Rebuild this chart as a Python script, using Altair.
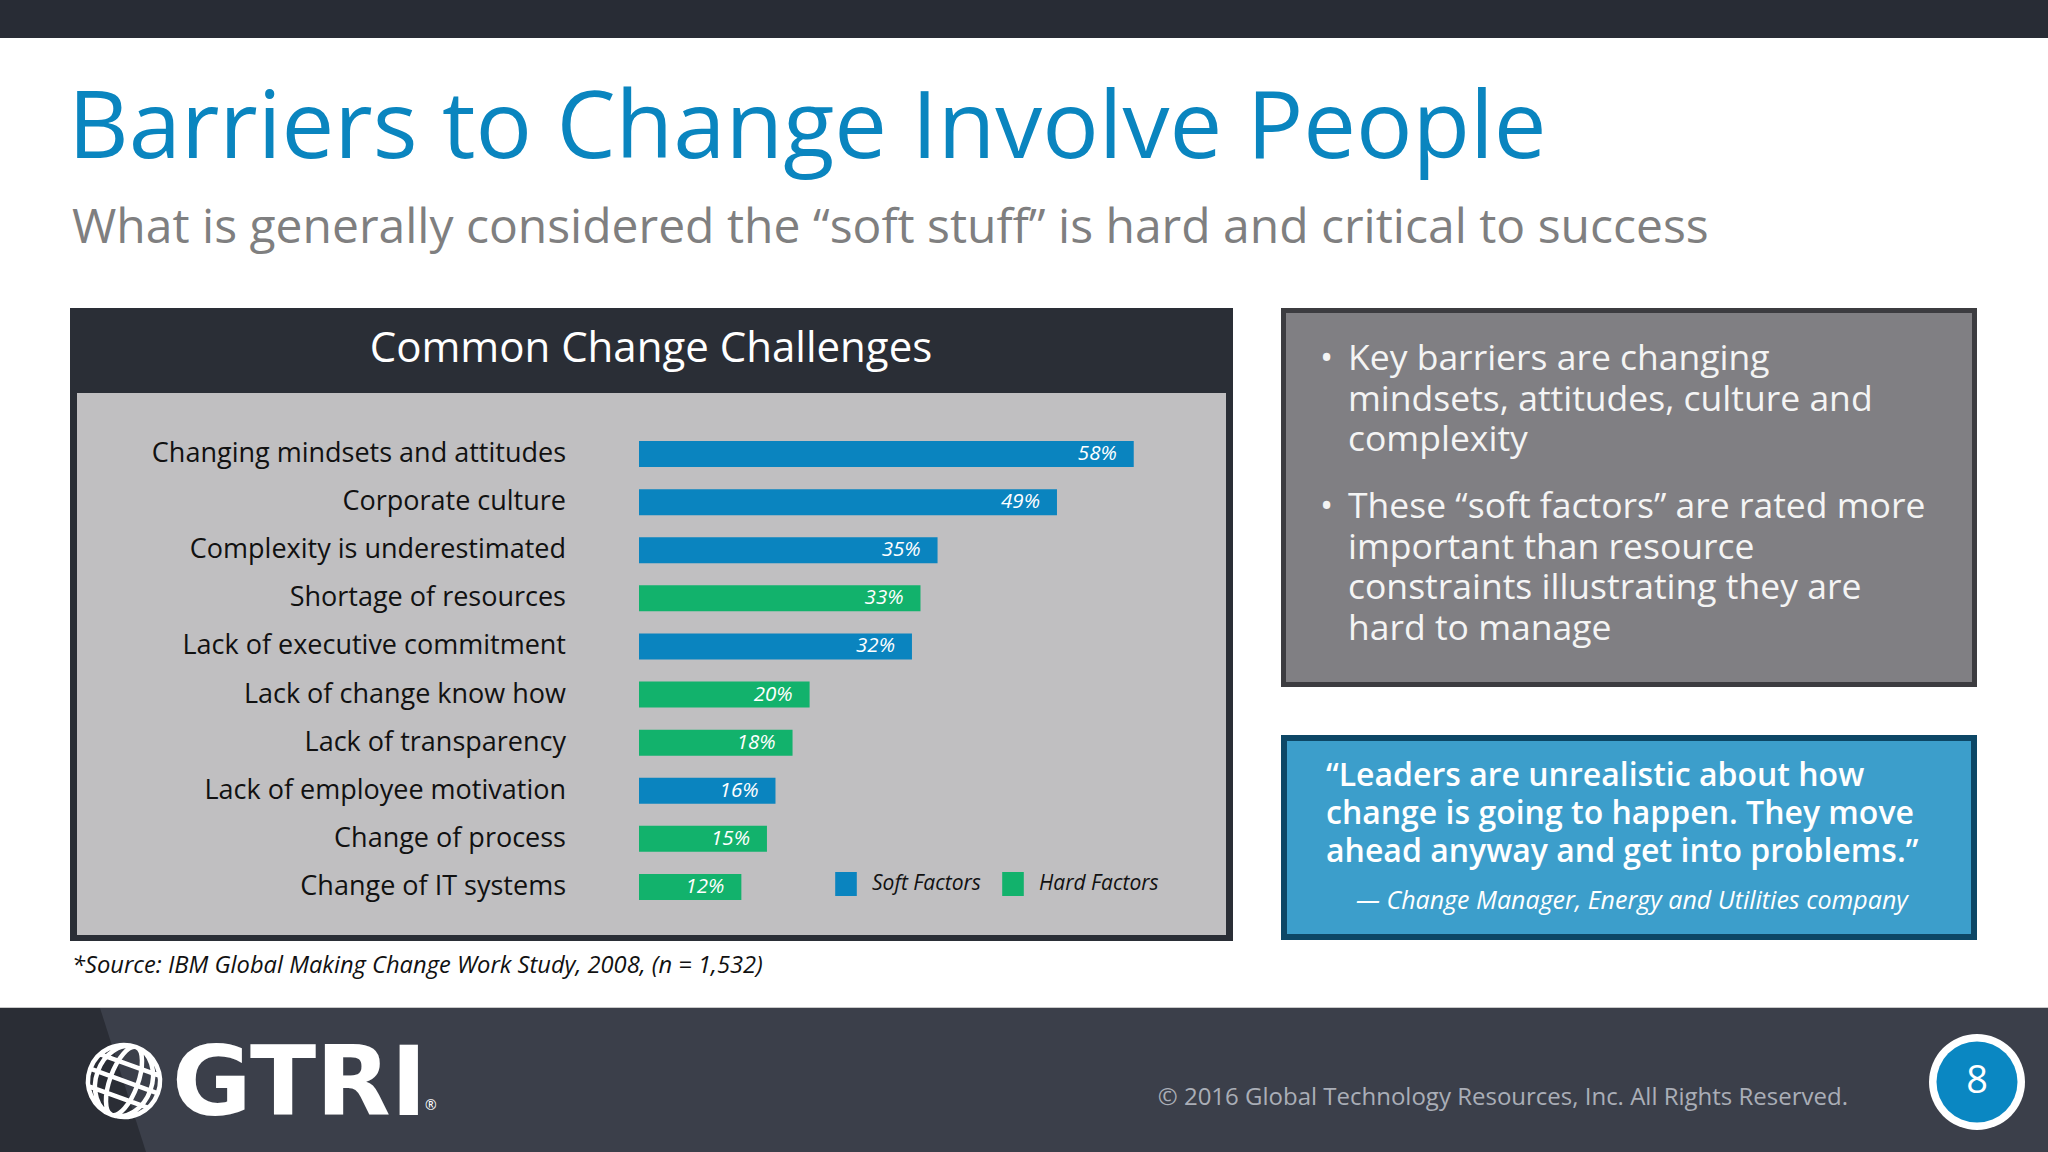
import altair as alt
import pandas as pd

# ---------------- data ----------------
labels = [
    "Changing mindsets and attitudes",
    "Corporate culture",
    "Complexity is underestimated",
    "Shortage of resources",
    "Lack of executive commitment",
    "Lack of change know how",
    "Lack of transparency",
    "Lack of employee motivation",
    "Change of process",
    "Change of IT systems",
]
values = [58, 49, 35, 33, 32, 20, 18, 16, 15, 12]
factor = ["Soft Factors", "Soft Factors", "Soft Factors", "Hard Factors", "Soft Factors",
          "Hard Factors", "Hard Factors", "Soft Factors", "Hard Factors", "Hard Factors"]
factor_names = ["Soft Factors", "Hard Factors"]
factor_colors = ["#0a84bf", "#12b26c"]

title_text = "Barriers to Change Involve People"
subtitle_text = "What is generally considered the \u201csoft stuff\u201d is hard and critical to success"
panel_title = "Common Change Challenges"
source_text = "*Source: IBM Global Making Change Work Study, 2008, (n = 1,532)"
bullet1 = ["Key barriers are changing", "mindsets, attitudes, culture and", "complexity"]
bullet2 = ["These \u201csoft factors\u201d are rated more", "important than resource",
           "constraints illustrating they are", "hard to manage"]
quote_lines = ["\u201cLeaders are unrealistic about how", "change is going to happen. They move",
               "ahead anyway and get into problems.\u201d"]
attribution = "\u2014 Change Manager, Energy and Utilities company"
copyright_text = "\u00a9 2016 Global Technology Resources, Inc. All Rights Reserved."
page_number = "8"

df = pd.DataFrame({"label": labels, "value": values, "factor": factor})

FONT = "Open Sans"
W, H = 2048, 1152

one = alt.Data(values=[{"k": 1}])


def box(x1, y1, x2, y2, fill):
    return alt.Chart(one).mark_rect(fill=fill, strokeWidth=0).encode(
        x=alt.value(x1), x2=alt.value(x2), y=alt.value(y1), y2=alt.value(y2))


def txt(text, x, y, size, color, align="left", weight="normal", style="normal",
        font=FONT, baseline="alphabetic"):
    return alt.Chart(one).mark_text(
        text=text, align=align, baseline=baseline, font=font, fontSize=size,
        color=color, fontWeight=weight, fontStyle=style
    ).encode(x=alt.value(x), y=alt.value(y))


def lines(texts, x, y0, step, size, color, **kw):
    return [txt(t, x, y0 + i * step, size, color, **kw) for i, t in enumerate(texts)]


layers = []
# slide frame
layers.append(box(0, 0, W, 38, "#282c35"))
layers.append(box(0, 1007, W, 1008, "#c9c9c9"))
layers.append(box(0, 1008, W, H, "#3b3f4a"))
# darker slanted band in footer
layers.append(alt.Chart(one).mark_point(
    shape="M0,0 L100,0 L146,144 L0,144 Z", size=4, filled=True, fill="#2a2d35",
    strokeWidth=0, opacity=1).encode(x=alt.value(0), y=alt.value(1008)))

# chart panel
layers.append(box(70, 308, 1233, 941, "#2a2e36"))
layers.append(box(77, 393, 1226, 935, "#c0bfc1"))
# right panels
layers.append(box(1281, 308, 1977, 687, "#3c3c40"))
layers.append(box(1286, 313, 1972, 682, "#807f83"))
layers.append(box(1281, 735, 1977, 940, "#0d4766"))
layers.append(box(1287, 741, 1971, 934, "#3c9ecb"))

# titles
layers.append(txt(title_text, 68, 158, 94, "#0a85bf"))
layers.append(txt(subtitle_text, 72, 243, 48, "#7f7f80"))
layers.append(txt(panel_title, 651, 362, 42, "#ffffff", align="center"))

# ---------------- bar chart ----------------
y_enc = alt.Y("label:N", sort=labels,
              scale=alt.Scale(range=[430, 911], paddingInner=0.46, paddingOuter=0.23),
              axis=None)
x_enc = alt.X("value:Q", scale=alt.Scale(domain=[0, 100], range=[639, 1492]), axis=None)

bars = alt.Chart(df).mark_bar(cornerRadius=0).encode(
    x=x_enc, y=y_enc,
    color=alt.Color("factor:N",
                    scale=alt.Scale(domain=factor_names, range=factor_colors),
                    legend=alt.Legend(
                        title=None, orient="none", legendX=834, legendY=872,
                        direction="horizontal", symbolType="M-0.9,-1H0.9V1H-0.9Z",
                        symbolSize=576, symbolStrokeWidth=0, labelFont=FONT,
                        labelFontSize=21, labelFontStyle="italic", labelColor="#111111",
                        labelOffset=14, columnPadding=20, padding=0,
                        labelLimit=300)),
)

value_labels = alt.Chart(df).transform_calculate(
    pct="datum.value + '%'"
).mark_text(align="right", baseline="middle", dx=-17, font=FONT, fontSize=20.5,
            fontStyle="italic", color="#ffffff").encode(
    x=x_enc, y=y_enc, text="pct:N")

cat_labels = alt.Chart(df).mark_text(
    align="right", baseline="middle", font=FONT, fontSize=27, color="#111111"
).encode(x=alt.value(566), y=y_enc, text="label:N")

layers += [bars, value_labels, cat_labels]

layers.append(txt(source_text, 72, 973, 23.7, "#111111", style="italic"))

# right panel texts
layers.append(txt("\u2022", 1320, 370, 35, "#f4f4f4"))
layers += lines(bullet1, 1348, 370, 40.6, 35.5, "#f4f4f4")
layers.append(txt("\u2022", 1320, 518, 35, "#f4f4f4"))
layers += lines(bullet2, 1348, 518, 40.6, 35.5, "#f4f4f4")
layers += lines(quote_lines, 1326, 786, 38, 32, "#ffffff", weight=600)
layers.append(txt(attribution, 1356, 909, 25, "#ffffff", style="italic"))

# footer
layers.append(alt.Chart(one).mark_point(
    shape=("M-36,0 A36,36 0 1,0 36,0 A36,36 0 1,0 -36,0 "
           "M0,-36 A14,36 0 1,0 0,36 A14,36 0 1,0 0,-36 "
           "M0,-36 A28,36 0 1,0 0,36 A28,36 0 1,0 0,-36 "
           "M-32,-17 H32 M-36,0 H36 M-32,17 H32"),
    size=4, filled=False, stroke="#ffffff", strokeWidth=4.5, angle=20, opacity=1
).encode(x=alt.value(124), y=alt.value(1081)))
layers.append(txt("GTRI", 172, 1115, 97, "#ffffff", weight="bold", font="DejaVu Sans"))
layers.append(txt("\u00ae", 425, 1110, 14, "#ffffff"))
layers.append(txt(copyright_text, 1848, 1105, 24, "#aaaeb7", align="right"))

layers.append(alt.Chart(one).mark_point(shape="circle", size=96 * 96, filled=True,
                                         fill="#ffffff", strokeWidth=0, opacity=1).encode(
    x=alt.value(1977), y=alt.value(1082)))
layers.append(alt.Chart(one).mark_point(shape="circle", size=81 * 81, filled=True,
                                         fill="#0a87c2", strokeWidth=0, opacity=1).encode(
    x=alt.value(1977), y=alt.value(1082)))
layers.append(txt(page_number, 1977, 1082, 38, "#ffffff", align="center", baseline="middle"))

chart = alt.layer(*layers).properties(
    width=W, height=H, padding=0, autosize=alt.AutoSizeParams(type="none"),
    background="#ffffff"
).configure_view(strokeWidth=0)

chart.save("out.html", embed_options={"renderer": "svg", "actions": False})
